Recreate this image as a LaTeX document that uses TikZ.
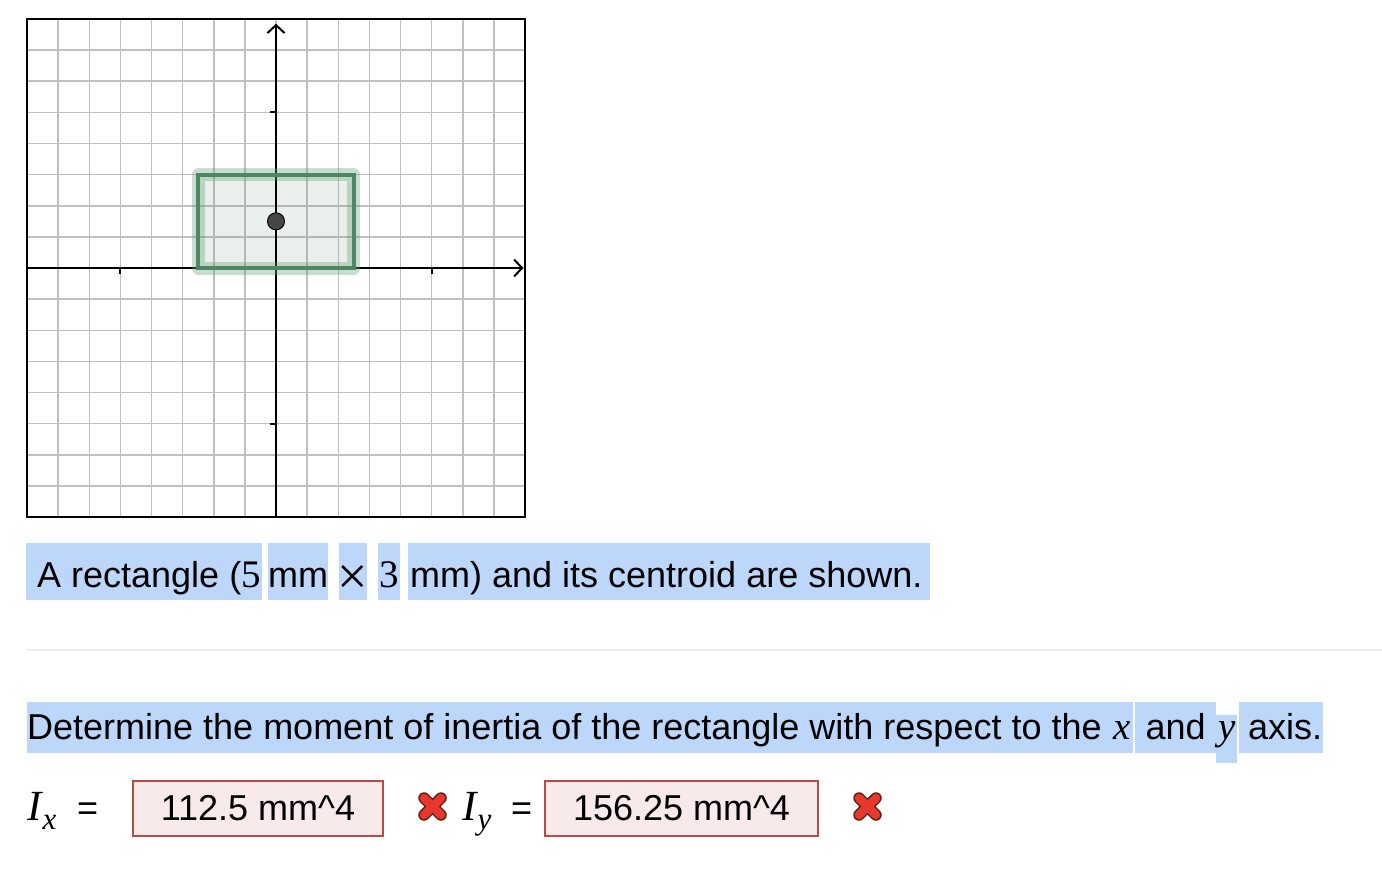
\documentclass[tikz,border=0pt]{standalone}
\usepackage{fontspec}
\setmainfont{Liberation Sans}
\newfontfamily\mathserif{Liberation Serif}
\usepackage{tikz}
\usetikzlibrary{arrows.meta,positioning}

\definecolor{hlblue}{RGB}{188,215,250}
\definecolor{gridgray}{RGB}{192,192,192}
\definecolor{shapegreen}{RGB}{78,134,98}
\definecolor{halogreen}{RGB}{100,160,120}
\definecolor{dotgray}{RGB}{70,70,70}
\definecolor{ansfill}{RGB}{248,234,234}
\definecolor{ansborder}{RGB}{185,74,72}
\definecolor{crossred}{RGB}{230,57,43}
\definecolor{crossdark}{RGB}{95,30,25}
\definecolor{rulegray}{RGB}{236,236,236}

\newcommand\mathup[1]{{\mathserif\fontsize{39}{44}\selectfont #1}}
\newcommand\mathvar[1]{{\mathserif\itshape\fontsize{39}{44}\selectfont #1}}
\newcommand\moment[1]{{\mathserif\itshape\fontsize{43}{44}\selectfont I\kern1pt\raisebox{-9pt}{\fontsize{31}{32}\selectfont #1}}}

\begin{document}
\begin{tikzpicture}[x=1pt,y=-1pt,
    every node/.style={font=\fontsize{36}{43}\selectfont, inner sep=0pt},
    hlspan/.style={fill=hlblue, anchor=base west},
    lineone/.style={hlspan, text height=44pt, text depth=13pt},
    linetwo/.style={hlspan, text height=37pt, text depth=14pt},
    plain/.style={anchor=base west},
    answer/.style={draw=ansborder, fill=ansfill, line width=2pt,
        minimum height=55pt, anchor=west}]
    \useasboundingbox[fill=white] (0,0) rectangle (1382,872);

    % grid with the rectangle
    \begin{scope}[shift={(276pt,-268pt)}, x=31.125pt, y=31.125pt]
        \draw[gridgray, line width=1.5pt, step=1] (-8,-8) grid (8,8);
        \fill[shapegreen, fill opacity=0.12] (-2.5,0) rectangle (2.5,3);
        \draw[line width=2pt, -{Straight Barb[length=8pt,width=17pt]}] (-8,0) -- (7.95,0);
        \draw[line width=2pt, -{Straight Barb[length=8pt,width=17pt]}] (0,-8) -- (0,7.85);
        \foreach \t in {-5,5} {
            \draw[line width=2pt] (\t,0) -- (\t,-0.19);
            \draw[line width=2pt] (0,\t) -- (-0.19,\t);
        }
        \draw[halogreen, draw opacity=0.35, line width=13pt, line join=round] (-2.5,0) rectangle (2.5,3);
        \draw[shapegreen, line width=4pt] (-2.5,0) rectangle (2.5,3);
        \filldraw[fill=dotgray, draw=black, line width=1pt] (0,1.5) circle (8.5pt);
        \draw[line width=2.5pt] (-8,-8) rectangle (8,8);
    \end{scope}

    % first sentence
    \node[lineone] (rect) at (26,587) {\hspace*{11pt}A rectangle (\mathup{5}\hspace*{1pt}};
    \node[lineone] (mmone) at (268,587) {mm};
    \node[lineone] (times) at (339,587) {\makebox[28pt]{\raisebox{-7pt}{\mathserif\fontsize{54}{44}\selectfont ×}}};
    \node[lineone, minimum width=22pt] (three) at (378,587) {\mathup{3}};
    \node[lineone] (shown) at (408,587) {\hspace*{2pt}mm) and its centroid are shown.\hspace*{8pt}};

    \draw[rulegray, line width=2pt] (27,650) -- (1382,650);

    % question
    \node[linetwo] (quest) at (27,739) {Determine the moment of inertia of the rectangle with respect to the\hspace*{14pt}};
    \node[linetwo, minimum width=22pt] (qx) at (1111,739) {\mathvar{x}};
    \node[linetwo, minimum width=81pt] (qand) at (1135,739) {and};
    \node[hlspan, text height=24pt, text depth=24pt, minimum width=21pt] (qy) at (1216,739) {\mathvar{y}};
    \node[linetwo] (qaxis) at (1239,739) {\hspace*{9pt}axis.\hspace*{1pt}};

    % answers
    \node[plain] (ix) at (27,820) {\moment{x}};
    \node[plain] (eqx) at (77,820) {=};
    \node[answer, minimum width=250pt] (ansx) at (132,808.5) {112.5 mm\textasciicircum4};
    \node[plain] (iy) at (462,820) {\moment{y}};
    \node[plain] (eqy) at (511,820) {=};
    \node[answer, minimum width=273pt] (ansy) at (544,808.5) {156.25 mm\textasciicircum4};
    \foreach \c in {432.5,867.5} {
        \draw[crossdark, line width=11.5pt, line cap=round] (\c-8.5,798) -- (\c+8.5,815) (\c-8.5,815) -- (\c+8.5,798);
        \draw[crossred, line width=8.5pt, line cap=round] (\c-8.5,798) -- (\c+8.5,815) (\c-8.5,815) -- (\c+8.5,798);
    }
\end{tikzpicture}
\end{document}
